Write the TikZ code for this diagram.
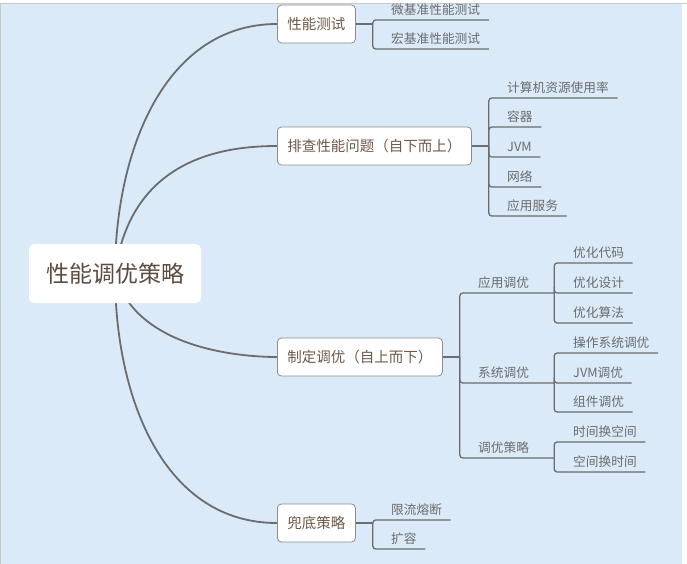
\documentclass[tikz,border=0pt]{standalone}
\usepackage{fontspec}
\setmainfont{Noto Sans CJK SC}
\usetikzlibrary{positioning}
\definecolor{mapbg}{RGB}{219,234,248}
\definecolor{linegray}{RGB}{108,108,108}
\definecolor{boxline}{RGB}{140,140,140}
\definecolor{roottext}{RGB}{92,75,62}
\definecolor{topictext}{RGB}{112,88,72}
\definecolor{leaftext}{RGB}{108,108,108}
\definecolor{framegray}{RGB}{200,200,200}
\pgfdeclarelayer{bg}
\pgfdeclarelayer{edges}
\pgfsetlayers{bg,edges,main}
\tikzset{
  root/.style={fill=white, rounded corners=5pt, minimum width=172pt, minimum height=59pt,
    inner sep=0pt, text=roottext, font=\fontsize{23pt}{26pt}\selectfont},
  topic/.style={draw=boxline, line width=0.8pt, fill=white, rounded corners=4pt,
    minimum height=38pt, inner xsep=10pt, anchor=west, text=topictext,
    font=\fontsize{14.5pt}{17pt}\selectfont},
  leaf/.style={anchor=south west, inner xsep=0pt, inner ysep=3pt, text height=10.5pt,
    text depth=2pt, text=leaftext, font=\fontsize{12.7pt}{15pt}\selectfont},
  curve/.style={draw=linegray, line width=1.8pt},
  branch/.style={draw=linegray, line width=1.3pt, rounded corners=3pt},
}

\begin{document}
\begin{tikzpicture}[x=1pt,y=-1pt]
\useasboundingbox (0,0) rectangle (687,564);
\begin{pgfonlayer}{bg}
\fill[mapbg] (1,4) rectangle (682,564);
\draw[framegray] (0,3.5) -- (687,3.5);
\draw[framegray] (0.5,3.5) -- (0.5,564);
\end{pgfonlayer}

% main topics
\node[root] (root) at (115,273.5) {性能调优策略};
\node[topic] (test) at (277,24) {性能测试};
\node[topic] (probe) at (277,146) {排查性能问题（自下而上）};
\node[topic] (plan) at (277,357) {制定调优（自上而下）};
\node[topic] (fallback) at (277,523) {兜底策略};

\begin{pgfonlayer}{edges}
\draw[curve] (root.center) .. controls +(0,-123) and +(-112,0) .. (test.west);
\draw[curve] (root.center) .. controls +(15,-113) and +(-57,0) .. (probe.west);
\draw[curve] (root.center) .. controls +(20,75) and +(-37,0) .. (plan.west);
\draw[curve] (root.center) .. controls +(0,127) and +(-112,0) .. (fallback.west);
\end{pgfonlayer}

% junctions
\coordinate (jA) at ([xshift=17pt]test.east);
\coordinate (jB) at ([xshift=17pt]probe.east);
\coordinate (jC) at ([xshift=17pt]plan.east);
\coordinate (jD) at ([xshift=17pt]fallback.east);
\draw[branch] (test.east) -- (jA);
\draw[branch] (probe.east) -- (jB);
\draw[branch] (plan.east) -- (jC);
\draw[branch] (fallback.east) -- (jD);

% 性能测试
\node[leaf] (micro) at (391,20) {微基准性能测试};
\node[leaf] (macro) at (391,49) {宏基准性能测试};
\foreach \n in {micro,macro}
  \draw[branch] (jA) |- ([xshift=8.5pt]\n.south east);

% 排查性能问题
\foreach \n/\y/\t in {usage/98/计算机资源使用率, container/127/容器, jvm/157/JVM,
    net/187/网络, service/216/应用服务}
  \node[leaf] (\n) at (507,\y) {\t};
\foreach \n in {usage,container,jvm,net,service}
  \draw[branch] (jB) |- ([xshift=8.5pt]\n.south east);

% 制定调优
\node[leaf] (app) at (478,293) {应用调优};
\node[leaf] (sys) at (478,383) {系统调优};
\node[leaf] (strat) at (478,458) {调优策略};
\coordinate (kApp) at ([xshift=25pt]app.south east);
\coordinate (kSys) at ([xshift=25pt]sys.south east);
\coordinate (kStrat) at ([xshift=25pt]strat.south east);
\foreach \k in {kApp,kSys,kStrat}
  \draw[branch] (jC) |- (\k);
\foreach \n/\y/\t in {code/263/优化代码, design/293/优化设计, algo/323/优化算法,
    os/353/操作系统调优, jvmtune/383/JVM调优, comp/412/组件调优,
    t2s/442/时间换空间, s2t/472/空间换时间}
  \node[leaf] (\n) at (573,\y) {\t};
\foreach \n in {code,design,algo}
  \draw[branch] (kApp) |- ([xshift=8.5pt]\n.south east);
\foreach \n in {os,jvmtune,comp}
  \draw[branch] (kSys) |- ([xshift=8.5pt]\n.south east);
\foreach \n in {t2s,s2t}
  \draw[branch] (kStrat) |- ([xshift=8.5pt]\n.south east);

% 兜底策略
\node[leaf] (limit) at (391,520) {限流熔断};
\node[leaf] (scale) at (391,549) {扩容};
\foreach \n in {limit,scale}
  \draw[branch] (jD) |- ([xshift=8.5pt]\n.south east);
\end{tikzpicture}
\end{document}
